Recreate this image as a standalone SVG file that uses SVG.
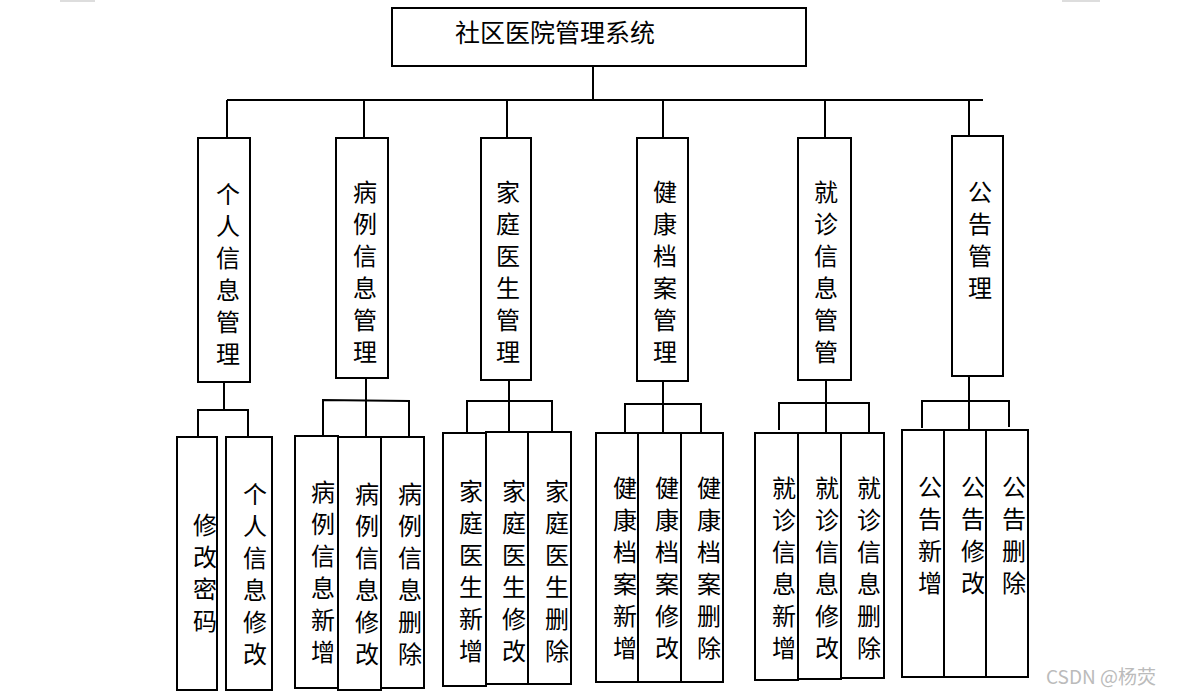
<svg xmlns="http://www.w3.org/2000/svg" width="1179" height="696" viewBox="0 0 1179 696">
<style>
rect{fill:#fff;stroke:#000;stroke-width:2}
line,polyline{stroke:#000;stroke-width:2;fill:none}
text{font-family:"Noto Sans CJK SC","Liberation Sans",sans-serif;font-size:24px;fill:#000;text-anchor:middle}
.t{font-size:25px;text-anchor:start}
.wm{font-size:19px;fill:#bbb;text-anchor:start}
</style>
<rect width="1179" height="696" style="fill:#fff;stroke:none"/>
<line x1="60" y1="1" x2="95" y2="1" style="stroke:#bbb;stroke-width:1"/>
<line x1="1062" y1="1" x2="1100" y2="1" style="stroke:#bbb;stroke-width:1"/>
<g id="connectors">
<line x1="593" y1="66" x2="593" y2="100"/>
<line x1="227" y1="100" x2="983" y2="100"/>
<line x1="227" y1="100" x2="227" y2="138"/>
<line x1="364" y1="100" x2="364" y2="138"/>
<line x1="507" y1="100" x2="507" y2="138"/>
<line x1="663" y1="100" x2="663" y2="138"/>
<line x1="825" y1="100" x2="825" y2="138"/>
<line x1="969" y1="100" x2="969" y2="136"/>
<line x1="224" y1="382" x2="224" y2="410"/>
<polyline points="198,437 198,410 248,410 248,437"/>
<line x1="366" y1="378" x2="366" y2="437"/>
<polyline points="323,436 323,400 409,401 409,437"/>
<line x1="509" y1="380" x2="509" y2="432"/>
<polyline points="467,433 467,401 552,401 552,432"/>
<line x1="663" y1="381" x2="663" y2="433"/>
<polyline points="625,433 625,404 701,404 701,433"/>
<line x1="826" y1="380" x2="826" y2="433"/>
<polyline points="779,430 779,403 869,403 869,433"/>
<line x1="969" y1="376" x2="969" y2="430"/>
<polyline points="922,428 922,401 1009,401 1009,427"/>
</g>
<g id="root"><rect x="392" y="8" width="414" height="58"/><text class="t" x="455" y="42">社区医院管理系统</text></g>
<g id="n1"><rect x="198" y="138" width="52" height="244"/><text x="228" y="203"><tspan x="228">个</tspan><tspan x="228" dy="32">人</tspan><tspan x="228" dy="32">信</tspan><tspan x="228" dy="32">息</tspan><tspan x="228" dy="32">管</tspan><tspan x="228" dy="32">理</tspan></text></g>
<g id="n2"><rect x="336" y="138" width="52" height="240"/><text x="365" y="201"><tspan x="365">病</tspan><tspan x="365" dy="32">例</tspan><tspan x="365" dy="32">信</tspan><tspan x="365" dy="32">息</tspan><tspan x="365" dy="32">管</tspan><tspan x="365" dy="32">理</tspan></text></g>
<g id="n3"><rect x="481" y="138" width="50" height="242"/><text x="508" y="201"><tspan x="508">家</tspan><tspan x="508" dy="32">庭</tspan><tspan x="508" dy="32">医</tspan><tspan x="508" dy="32">生</tspan><tspan x="508" dy="32">管</tspan><tspan x="508" dy="32">理</tspan></text></g>
<g id="n4"><rect x="637" y="138" width="51" height="243"/><text x="665" y="201"><tspan x="665">健</tspan><tspan x="665" dy="32">康</tspan><tspan x="665" dy="32">档</tspan><tspan x="665" dy="32">案</tspan><tspan x="665" dy="32">管</tspan><tspan x="665" dy="32">理</tspan></text></g>
<g id="n5"><rect x="798" y="138" width="53" height="242"/><text x="826" y="201"><tspan x="826">就</tspan><tspan x="826" dy="32">诊</tspan><tspan x="826" dy="32">信</tspan><tspan x="826" dy="32">息</tspan><tspan x="826" dy="32">管</tspan><tspan x="826" dy="32">管</tspan></text></g>
<g id="n6"><rect x="952" y="136" width="51" height="240"/><text x="980" y="201"><tspan x="980">公</tspan><tspan x="980" dy="32">告</tspan><tspan x="980" dy="32">管</tspan><tspan x="980" dy="32">理</tspan></text></g>

<g id="n1a"><rect x="177" y="437" width="40" height="253"/><text y="534"><tspan x="205">修</tspan><tspan x="205" dy="32">改</tspan><tspan x="205" dy="32">密</tspan><tspan x="205" dy="32">码</tspan></text></g>
<g id="n1b"><rect x="226" y="437" width="46" height="253"/><text y="503"><tspan x="255">个</tspan><tspan x="255" dy="32">人</tspan><tspan x="255" dy="32">信</tspan><tspan x="255" dy="32">息</tspan><tspan x="255" dy="32">修</tspan><tspan x="255" dy="32">改</tspan></text></g>

<g id="n2a"><rect x="295" y="436" width="43" height="252"/><text y="501"><tspan x="323">病</tspan><tspan x="323" dy="32">例</tspan><tspan x="323" dy="32">信</tspan><tspan x="323" dy="32">息</tspan><tspan x="323" dy="32">新</tspan><tspan x="323" dy="32">增</tspan></text></g>
<g id="n2b"><rect x="338" y="437" width="43" height="253"/><text y="503"><tspan x="367">病</tspan><tspan x="367" dy="32">例</tspan><tspan x="367" dy="32">信</tspan><tspan x="367" dy="32">息</tspan><tspan x="367" dy="32">修</tspan><tspan x="367" dy="32">改</tspan></text></g>
<g id="n2c"><rect x="381" y="437" width="43" height="251"/><text y="503"><tspan x="410">病</tspan><tspan x="410" dy="32">例</tspan><tspan x="410" dy="32">信</tspan><tspan x="410" dy="32">息</tspan><tspan x="410" dy="32">删</tspan><tspan x="410" dy="32">除</tspan></text></g>

<g id="n3a"><rect x="443" y="433" width="43" height="253"/><text y="500"><tspan x="471">家</tspan><tspan x="471" dy="32">庭</tspan><tspan x="471" dy="32">医</tspan><tspan x="471" dy="32">生</tspan><tspan x="471" dy="32">新</tspan><tspan x="471" dy="32">增</tspan></text></g>
<g id="n3b"><rect x="486" y="432" width="42" height="252"/><text y="500"><tspan x="514">家</tspan><tspan x="514" dy="32">庭</tspan><tspan x="514" dy="32">医</tspan><tspan x="514" dy="32">生</tspan><tspan x="514" dy="32">修</tspan><tspan x="514" dy="32">改</tspan></text></g>
<g id="n3c"><rect x="528" y="432" width="43" height="252"/><text y="500"><tspan x="557">家</tspan><tspan x="557" dy="32">庭</tspan><tspan x="557" dy="32">医</tspan><tspan x="557" dy="32">生</tspan><tspan x="557" dy="32">删</tspan><tspan x="557" dy="32">除</tspan></text></g>

<g id="n4a"><rect x="596" y="433" width="42" height="249"/><text y="497"><tspan x="625">健</tspan><tspan x="625" dy="32">康</tspan><tspan x="625" dy="32">档</tspan><tspan x="625" dy="32">案</tspan><tspan x="625" dy="32">新</tspan><tspan x="625" dy="32">增</tspan></text></g>
<g id="n4b"><rect x="638" y="433" width="43" height="249"/><text y="497"><tspan x="667">健</tspan><tspan x="667" dy="32">康</tspan><tspan x="667" dy="32">档</tspan><tspan x="667" dy="32">案</tspan><tspan x="667" dy="32">修</tspan><tspan x="667" dy="32">改</tspan></text></g>
<g id="n4c"><rect x="681" y="433" width="42" height="249"/><text y="497"><tspan x="709">健</tspan><tspan x="709" dy="32">康</tspan><tspan x="709" dy="32">档</tspan><tspan x="709" dy="32">案</tspan><tspan x="709" dy="32">删</tspan><tspan x="709" dy="32">除</tspan></text></g>

<g id="n5a"><rect x="755" y="433" width="43" height="247"/><text y="497"><tspan x="784">就</tspan><tspan x="784" dy="32">诊</tspan><tspan x="784" dy="32">信</tspan><tspan x="784" dy="32">息</tspan><tspan x="784" dy="32">新</tspan><tspan x="784" dy="32">增</tspan></text></g>
<g id="n5b"><rect x="798" y="433" width="43" height="246"/><text y="497"><tspan x="827">就</tspan><tspan x="827" dy="32">诊</tspan><tspan x="827" dy="32">信</tspan><tspan x="827" dy="32">息</tspan><tspan x="827" dy="32">修</tspan><tspan x="827" dy="32">改</tspan></text></g>
<g id="n5c"><rect x="841" y="433" width="43" height="245"/><text y="497"><tspan x="869">就</tspan><tspan x="869" dy="32">诊</tspan><tspan x="869" dy="32">信</tspan><tspan x="869" dy="32">息</tspan><tspan x="869" dy="32">删</tspan><tspan x="869" dy="32">除</tspan></text></g>

<g id="n6a"><rect x="902" y="430" width="42" height="247"/><text y="496"><tspan x="930">公</tspan><tspan x="930" dy="32">告</tspan><tspan x="930" dy="32">新</tspan><tspan x="930" dy="32">增</tspan></text></g>
<g id="n6b"><rect x="944" y="430" width="42" height="247"/><text y="496"><tspan x="973">公</tspan><tspan x="973" dy="32">告</tspan><tspan x="973" dy="32">修</tspan><tspan x="973" dy="32">改</tspan></text></g>
<g id="n6c"><rect x="986" y="430" width="42" height="247"/><text y="496"><tspan x="1014">公</tspan><tspan x="1014" dy="32">告</tspan><tspan x="1014" dy="32">删</tspan><tspan x="1014" dy="32">除</tspan></text></g>
<text class="wm" x="1046" y="684">CSDN @杨荧</text>
</svg>
